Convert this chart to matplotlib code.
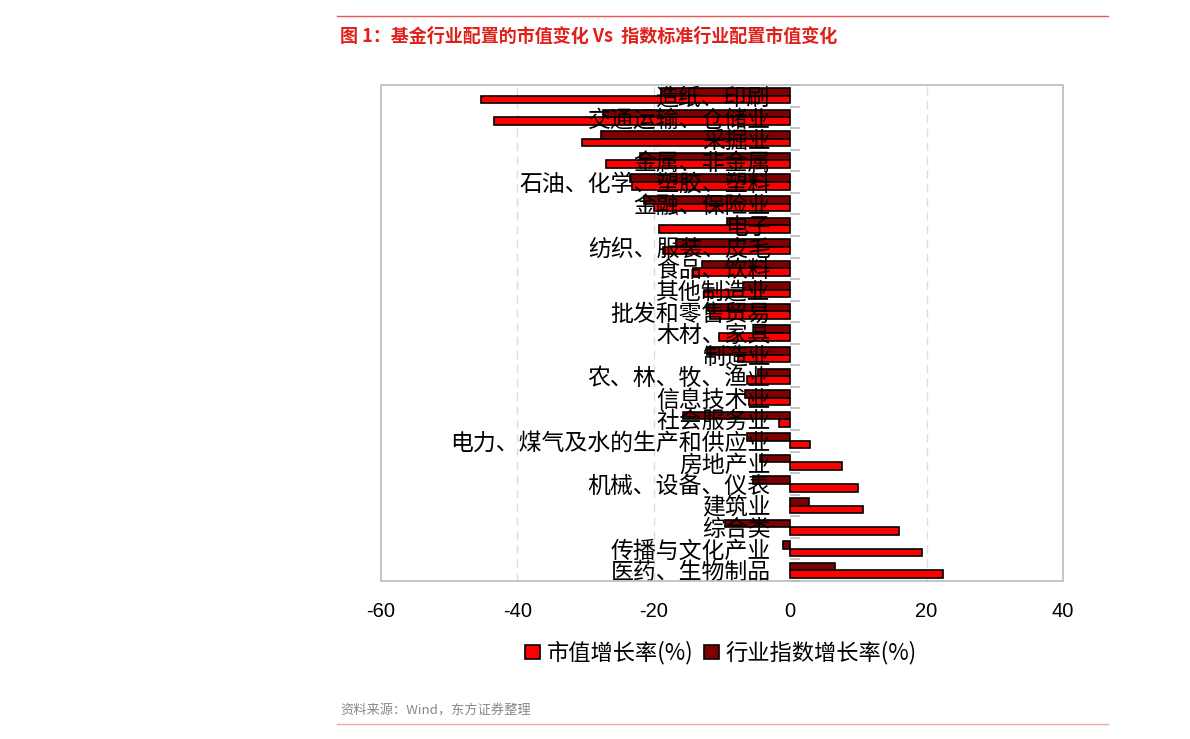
import numpy as np
import matplotlib.pyplot as plt
from matplotlib.patches import Rectangle
from matplotlib.ticker import FixedLocator

plt.rcParams['font.family'] = ['Noto Sans CJK SC', 'DejaVu Sans']

# données
categories = ['造纸、印刷', '交通运输、仓储业', '采掘业', '金属、非金属', '石油、化学、塑胶、塑料',
              '金融、保险业', '电子', '纺织、服装、皮毛', '食品、饮料', '其他制造业', '批发和零售贸易',
              '木材、家具', '制造业', '农、林、牧、渔业', '信息技术业', '社会服务业',
              '电力、煤气及水的生产和供应业', '房地产业', '机械、设备、仪表', '建筑业', '综合类',
              '传播与文化产业', '医药、生物制品']
market_growth = [-45.4, -43.5, -30.5, -27.0, -23.2, -20.0, -19.3, -18.7, -14.2, -12.7, -11.7,
                 -10.4, -7.6, -6.3, -6.1, -1.6, 2.9, 7.6, 9.9, 10.7, 15.9, 19.3, 22.4]
index_growth = [-19.0, -27.5, -27.7, -22.0, -23.5, -21.5, -9.2, -16.8, -12.9, -6.9, -12.0,
                -5.1, -12.2, -4.7, -6.6, -15.7, -6.3, -4.4, -5.4, 2.8, -9.5, -1.0, 6.5]
xticks = [-60, -40, -20, 0, 20, 40]

fig = plt.figure(figsize=(11.9, 7.39), dpi=100)
ax = fig.add_axes([381 / 1190, 1 - 581 / 739, 682 / 1190, 496 / 739])

y = np.arange(len(categories))
h = 0.35
ax.barh(y - h / 2, index_growth, height=h, color='#7F0000', edgecolor='black', linewidth=1.2,
        label='行业指数增长率(%)', zorder=3)
ax.barh(y + h / 2, market_growth, height=h, color='#FF0000', edgecolor='black', linewidth=1.2,
        label='市值增长率(%)', zorder=3)

ax.set_xlim(-60, 40)
ax.set_ylim(len(categories) - 0.5, -0.5)
ax.set_xticks(xticks)
ax.set_xticklabels([str(t) for t in xticks], family=['Liberation Sans', 'DejaVu Sans'], fontsize=14.5)
ax.tick_params(axis='x', length=0, pad=15)

# axe des catégories placé en x = 0
ax.spines['left'].set_position(('data', 0))
for s in ax.spines.values():
    s.set_visible(False)
ax.set_yticks(y)
ax.set_yticklabels(categories, fontsize=16.5)
ax.yaxis.set_minor_locator(FixedLocator(np.arange(-0.5, len(categories), 1)))
ax.tick_params(axis='y', which='major', length=0, pad=14)
ax.tick_params(axis='y', which='minor', direction='in', length=7, color='#BBBBBB', width=1.2)
for lab in ax.get_yticklabels():
    lab.set_zorder(4)
ax.yaxis.set_zorder(4)

ax.add_patch(Rectangle((0, 0), 1, 1, transform=ax.transAxes, fill=False, edgecolor='#BBBBBB',
                       linewidth=1.2, clip_on=False, zorder=5))
for t in [-40, -20, 20]:
    ax.axvline(t, color='#DDDDDD', linestyle=(0, (6, 4)), linewidth=1, zorder=1)

handles, labels = ax.get_legend_handles_labels()
fig.legend(handles[::-1], labels[::-1], loc='center', bbox_to_anchor=(721 / 1190, 1 - 653 / 739),
           ncol=2, frameon=False, fontsize=16, handlelength=0.65, handleheight=0.65,
           handletextpad=0.3, columnspacing=0.5)

# titre, source et filets
fig.text(340 / 1190, 1 - 36 / 739, '图 1：基金行业配置的市值变化 Vs  指数标准行业配置市值变化',
         color='#E0201A', fontsize=13, fontweight='bold', va='center', ha='left')
fig.text(340 / 1190, 1 - 711 / 739, '资料来源：Wind，东方证券整理', color='#888888', fontsize=9.5,
         va='center', ha='left')
fig.add_artist(plt.Line2D([337 / 1190, 1108 / 1190], [1 - 16 / 739, 1 - 16 / 739], color='#E8574F', lw=1))
fig.add_artist(plt.Line2D([337 / 1190, 1108 / 1190], [1 - 724 / 739, 1 - 724 / 739], color='#F2A6A6', lw=1))

fig.savefig('out.png', dpi=100)
